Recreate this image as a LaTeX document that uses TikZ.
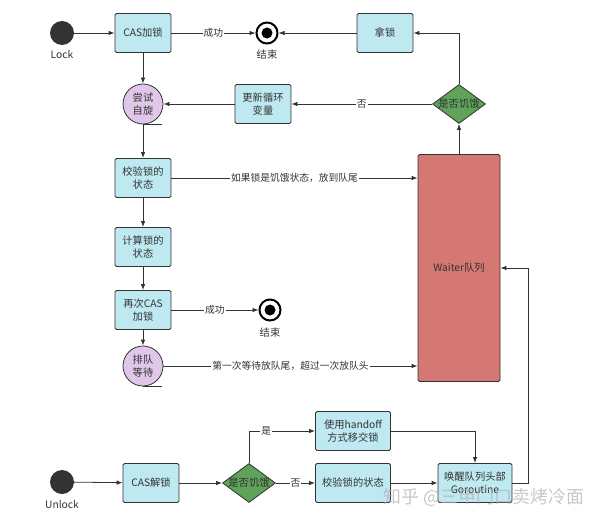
\documentclass[tikz,border=0pt]{standalone}
\usepackage{fontspec}
\setmainfont{Noto Sans CJK SC}
\usetikzlibrary{arrows.meta,shapes.geometric}
\definecolor{boxc}{HTML}{BEE9F1}
\definecolor{purc}{HTML}{E0C6E9}
\definecolor{grnc}{HTML}{5FA35A}
\definecolor{redc}{HTML}{D57772}
\definecolor{ink}{HTML}{333333}
\begin{document}
\begin{tikzpicture}[x=1bp,y=-1bp,
  txt/.style={font=\fontsize{10.3}{13}\selectfont, text=ink},
  box/.style={txt, draw=ink, fill=boxc, rounded corners=1.5bp, minimum width=56bp, minimum height=39bp, align=center, line width=0.8bp, inner sep=1bp},
  st/.style={txt, draw=ink, fill=purc, circle, minimum size=40bp, inner sep=0pt, align=center, line width=0.8bp},
  dot/.style={circle, fill=ink, minimum size=24bp, inner sep=0pt},
  endc/.style={circle, draw=black, fill=white, line width=2bp, minimum size=21bp, inner sep=0pt},
  dia/.style={diamond, draw=ink, fill=grnc, minimum width=53bp, minimum height=39bp, inner sep=0pt, line width=0.8bp},
  arr/.style={-{Latex[length=6bp,width=4.5bp]}, draw=ink, line width=0.8bp},
  lbl/.style={txt, fill=white, inner sep=1bp, font=\fontsize{9.8}{11}\selectfont}]
\useasboundingbox (0,0) rectangle (600,522);
\fill[white] (0,0) rectangle (600,522);

% top part
\node[dot] (lock) at (62,33) {};
\node[txt] (lockl) at (62,54) {Lock};
\node[box] (cas) at (143,33) {CAS加锁};
\node[endc] (end1) at (267,33) {};
\fill[black] (end1.center) circle (5.5bp);
\node[txt] (end1l) at (267,55) {结束};
\node[box] (take) at (385,33) {拿锁};
\node[dia] (hungry) at (459,104) {};
\node[txt] (hungryt) at (459,104) {是否饥饿};
\node[box] (upd) at (263,104) {更新循环\\变量};
\node[st] (spin) at (143,104) {尝试\\自旋};
\node[box] (chk) at (143,178) {校验锁的\\状态};
\node[txt, draw=ink, fill=redc, rounded corners=1.5bp, minimum width=82bp, minimum height=227bp, line width=0.8bp] (q) at (459,268) {Waiter队列};
\node[box] (calc) at (143,247) {计算锁的\\状态};
\node[box] (cas2) at (143,310) {再次CAS\\加锁};
\node[endc] (end2) at (270,310) {};
\fill[black] (end2.center) circle (5.5bp);
\node[txt] (end2l) at (270,333) {结束};
\node[st] (wait) at (143,366) {排队\\等待};

\draw[ink, line width=0.8bp] (spin.south) -- ++(19,0);
\draw[ink, line width=0.8bp] (wait.south) -- ++(19,0);

\draw[arr] (lock) -- (cas);
\draw[arr] (cas) -- node[lbl] {成功} (end1);
\draw[arr] (take) -- (end1);
\draw[arr] (hungry.north) |- (take.east);
\draw[arr] (hungry) -- node[lbl] {否} (upd);
\draw[arr] (upd) -- (spin);
\draw[arr] (cas) -- (spin);
\draw[arr] (spin) -- (chk);
\draw[arr] (chk.east) -- node[lbl] {如果锁是饥饿状态，放到队尾} (q.west |- chk.east);
\draw[arr] (q.north) -- (hungry.south);
\draw[arr] (chk) -- (calc);
\draw[arr] (calc) -- (cas2);
\draw[arr] (cas2) -- node[lbl] {成功} (end2);
\draw[arr] (cas2) -- (wait);
\draw[arr] (wait.east) -- node[lbl] {第一次等待放队尾，超过一次放队头} (q.west |- wait.east);

% bottom part
\node[dot] (unlock) at (62,482) {};
\node[txt] (unlockl) at (62,504) {Unlock};
\node[box] (casu) at (151,483) {CAS解锁};
\node[dia] (h2) at (249,483) {};
\node[txt] (h2t) at (249,483) {是否饥饿};
\node[box, minimum width=75bp] (handoff) at (353,431) {使用handoff\\方式移交锁};
\node[box, minimum width=75bp] (chk2) at (353,483) {校验锁的状态};
\node[box, minimum width=74bp] (wake) at (475,483) {唤醒队列头部\\Goroutine};
\coordinate (cr) at (528,483);

\draw[arr] (unlock) -- (casu);
\draw[arr] (casu) -- (h2);
\draw[arr] (h2) -- node[lbl] {否} (chk2);
\draw[arr] (h2.north) |- node[lbl, pos=0.63] {是} (handoff.west);
\draw[arr] (handoff.east) -| (wake.north);
\draw[arr] (chk2) -- (wake);
\draw[arr] (wake.east) -- (cr) |- (q.east);

\node[text=black!30, opacity=0.7, font=\fontsize{18}{20}\selectfont] (wm) at (484,498) {知乎 @三甲门口卖烤冷面};
\end{tikzpicture}
\end{document}
